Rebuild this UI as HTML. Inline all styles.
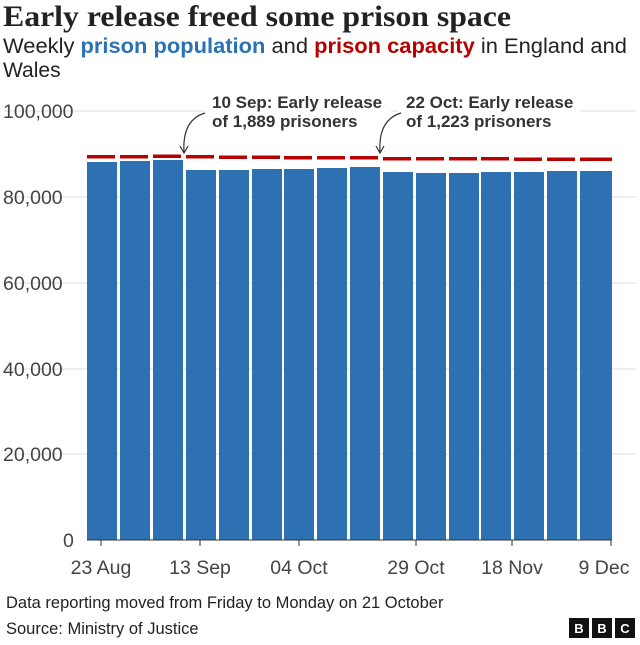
<!DOCTYPE html>
<html><head><style>
body{margin:0;background:#fff;font-family:"Liberation Sans",sans-serif;}
</style></head><body>
<svg width="640" height="640" xmlns="http://www.w3.org/2000/svg" font-family="Liberation Sans, sans-serif">
<rect width="640" height="640" fill="#fff"/>
<text x="3" y="26" font-size="30" font-weight="bold" font-family="Liberation Serif, serif" fill="#222" textLength="508" lengthAdjust="spacingAndGlyphs">Early release freed some prison space</text>
<text x="3" y="53" font-size="21" fill="#222" textLength="624" lengthAdjust="spacingAndGlyphs">Weekly <tspan fill="#2a72b5" font-weight="bold">prison population</tspan> and <tspan fill="#b80000" font-weight="bold">prison capacity</tspan> in England and</text>
<text x="3" y="77" font-size="21" fill="#222">Wales</text>
<g stroke="#ddd" stroke-width="1">
<line x1="4" x2="636" y1="111" y2="111"/>
<line x1="4" x2="636" y1="197" y2="197"/>
<line x1="4" x2="636" y1="283" y2="283"/>
<line x1="4" x2="636" y1="369" y2="369"/>
<line x1="4" x2="636" y1="454" y2="454"/>
</g>
<rect x="205" y="90" width="186" height="42" fill="#fff"/>
<rect x="398" y="90" width="182" height="42" fill="#fff"/>
<g font-size="19.5" fill="#444">
<text x="3" y="118">100,000</text>
<text x="3" y="204">80,000</text>
<text x="3" y="290">60,000</text>
<text x="3" y="376">40,000</text>
<text x="3" y="461">20,000</text>
<text x="63" y="547">0</text>
</g>
<g fill="#2e71b3">
<rect x="87" y="162" width="30" height="378"/>
<rect x="120" y="161" width="30" height="379"/>
<rect x="153" y="160" width="30" height="380"/>
<rect x="186" y="170" width="30" height="370"/>
<rect x="219" y="170" width="30" height="370"/>
<rect x="252" y="169" width="30" height="371"/>
<rect x="284" y="169" width="30" height="371"/>
<rect x="317" y="168" width="30" height="372"/>
<rect x="350" y="167" width="30" height="373"/>
<rect x="383" y="172" width="30" height="368"/>
<rect x="416" y="173" width="30" height="367"/>
<rect x="449" y="173" width="30" height="367"/>
<rect x="481" y="172" width="30" height="368"/>
<rect x="514" y="172" width="30" height="368"/>
<rect x="547" y="171" width="30" height="369"/>
<rect x="580" y="171" width="32" height="369"/>
</g>
<g fill="#b80000">
<rect x="87" y="155" width="28" height="3.5"/>
<rect x="120" y="155" width="28" height="3.5"/>
<rect x="153" y="154.5" width="28" height="3.5"/>
<rect x="186" y="155" width="28" height="3.5"/>
<rect x="219" y="155.5" width="28" height="3.5"/>
<rect x="252" y="155.5" width="28" height="3.5"/>
<rect x="284" y="156" width="28" height="3.5"/>
<rect x="317" y="156" width="28" height="3.5"/>
<rect x="350" y="156" width="28" height="3.5"/>
<rect x="383" y="157" width="28" height="3.5"/>
<rect x="416" y="157" width="28" height="3.5"/>
<rect x="449" y="157" width="28" height="3.5"/>
<rect x="481" y="157" width="28" height="3.5"/>
<rect x="514" y="157.5" width="28" height="3.5"/>
<rect x="547" y="157.5" width="28" height="3.5"/>
<rect x="580" y="157.5" width="32" height="3.5"/>
</g>
<line x1="87" x2="612" y1="540" y2="540" stroke="#333" stroke-width="1"/>
<g stroke="#333" stroke-width="1">
<line x1="101" x2="101" y1="540" y2="546"/><line x1="200" x2="200" y1="540" y2="546"/>
<line x1="299" x2="299" y1="540" y2="546"/><line x1="416" x2="416" y1="540" y2="546"/>
<line x1="512" x2="512" y1="540" y2="546"/><line x1="611" x2="611" y1="540" y2="546"/>
</g>
<g font-size="19.5" fill="#444" text-anchor="middle">
<text x="101" y="574">23 Aug</text><text x="200" y="574">13 Sep</text>
<text x="299" y="574">04 Oct</text><text x="416" y="574">29 Oct</text>
<text x="512" y="574">18 Nov</text><text x="604" y="574">9 Dec</text>
</g>
<g font-size="17" font-weight="bold" fill="#333">
<text x="212" y="108">10 Sep: Early release</text><text x="212" y="127">of 1,889 prisoners</text>
<text x="406" y="108">22 Oct: Early release</text><text x="406" y="127">of 1,223 prisoners</text>
</g>
<g fill="none" stroke="#333" stroke-width="1.2">
<path d="M205 113 Q182 120 184 152"/><path d="M180 146 L184 153 L188 146"/>
<path d="M401 113 Q378 120 380 152"/><path d="M376 146 L380 153 L384 146"/>
</g>
<text x="6" y="608" font-size="16.5" fill="#222">Data reporting moved from Friday to Monday on 21 October</text>
<text x="6" y="634" font-size="16.5" fill="#222">Source: Ministry of Justice</text>
<g font-size="13" font-weight="bold" fill="#fff" text-anchor="middle">
<rect x="569" y="618" width="20" height="20" fill="#111"/><text x="579" y="633">B</text>
<rect x="592" y="618" width="20" height="20" fill="#111"/><text x="602" y="633">B</text>
<rect x="615" y="618" width="20" height="20" fill="#111"/><text x="625" y="633">C</text>
</g>
</svg>
</body></html>
